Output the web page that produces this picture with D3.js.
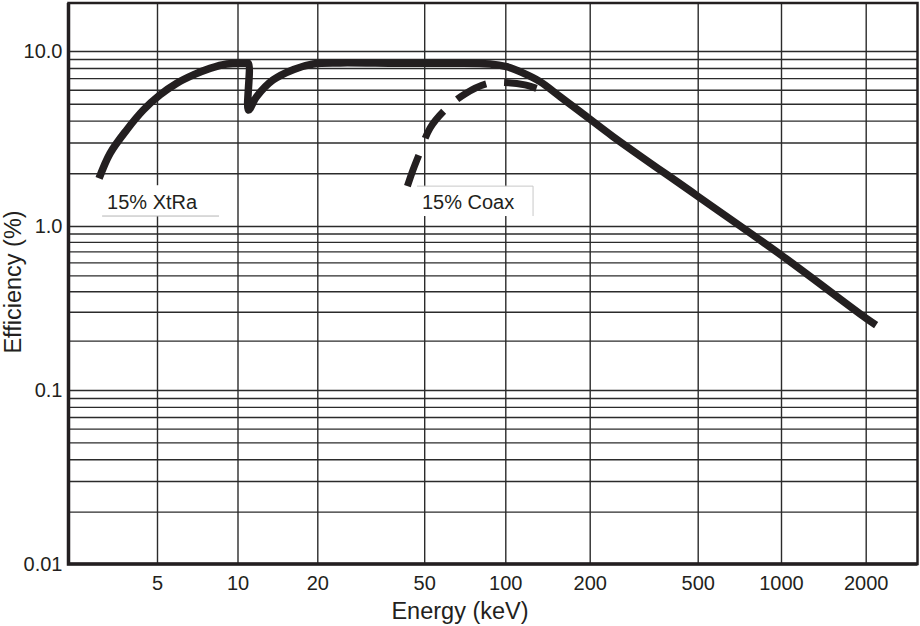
<!DOCTYPE html>
<html>
<head>
<meta charset="utf-8">
<script src="https://cdn.jsdelivr.net/npm/d3@7"></script>
<style>
    body { margin: 0; background: #fff; }
    svg text { font-family: "Liberation Sans", Arial, Helvetica, sans-serif; fill: #231f20; }
</style>
</head>
<body>
<div id="main"></div>
<script>

// tick labels and grid values
const xTickValues = [5, 10, 20, 50, 100, 200, 500, 1000, 2000];
const yTickValues = [0.01, 0.1, 1, 10];
const yTickLabels = ["0.01", "0.1", "1.0", "10.0"];
const yGridValues = [0.02, 0.03, 0.04, 0.05, 0.06, 0.07, 0.08, 0.09,
                     0.1, 0.2, 0.3, 0.4, 0.5, 0.6, 0.7, 0.8, 0.9,
                     1, 2, 3, 4, 5, 6, 7, 8, 9, 10];

// 15% XtRa detector (keV, %)
const xtraEnergy = [3.05, 3.35, 3.86, 4.45, 5.13, 5.93, 6.84, 7.89, 9.12, 10.7, 10.99, 11.0,
                    11.8, 13.6, 16.3, 19.3, 24.3, 40, 60, 87.7, 101, 116, 133, 157, 185, 244,
                    500, 1000, 2000, 2180];
const xtraEff = [1.87, 2.60, 3.54, 4.60, 5.61, 6.54, 7.30, 7.96, 8.43, 8.5, 8.5, 4.6,
                 5.48, 6.82, 7.85, 8.43, 8.55, 8.5, 8.5, 8.43, 8.13, 7.47, 6.68, 5.48, 4.50, 3.24,
                 1.48, 0.666, 0.275, 0.249];

// 15% Coax detector (keV, %)
const coaxEnergy = [43.3, 45.0, 47.6, 52.6, 59.7, 70.8, 86.5, 102.5, 117.5, 132];
const coaxEff = [1.69, 2.01, 2.51, 3.63, 4.60, 5.68, 6.53, 6.59, 6.40, 6.04];

// curve labels, boxes given in data units
const labelText = ["15% XtRa", "15% Coax"];
const labelEnergy = [[3.13, 8.53], [47.0, 125.6]];
const labelEff = [[1.71, 1.14], [1.69, 1.14]];


class EfficiencyVis{

    constructor(){

        this.width = 920;
        this.height = 626;

        this.svg = d3.select("#main").append("svg")
            .attr("width", this.width)
            .attr("height", this.height);

        this.update();
    }

    update(){

        let svg = this.svg;
        const ink = "#231f20";

        //hand drawn log grid, so the decades are not all the same size
        const x = d3.scaleLog()
            .domain([2.35, 5, 10, 20, 50, 100, 200, 500, 1000, 2000, 3070])
            .range([68.5, 157, 237.5, 317.3, 424.2, 505.3, 589.7, 697.7, 781, 865.7, 917.5]);

        const y = d3.scaleLog()
            .domain([0.01, 0.1, 1, 10, 18.8])
            .range([564, 390, 226, 51, 3]);

        const left = x.range()[0], right = x.range()[x.range().length - 1];
        const top = y.range()[y.range().length - 1], bottom = y.range()[0];

        //horizontal grid
        svg.append("g")
            .attr("transform", "translate(" + left + ",0)")
            .call(d3.axisLeft(y).tickValues(yGridValues).tickSize(-(right - left)).tickFormat(""))
            .call(g => g.select(".domain").remove())
            .selectAll("line")
            .attr("stroke", "#2b2b2b")
            .attr("stroke-width", 1.4);

        //vertical grid
        svg.append("g")
            .attr("transform", "translate(0," + bottom + ")")
            .call(d3.axisBottom(x).tickValues(xTickValues).tickSize(-(bottom - top)).tickFormat(""))
            .call(g => g.select(".domain").remove())
            .selectAll("line")
            .attr("stroke", "#2b2b2b")
            .attr("stroke-width", 1.4);

        //frame
        svg.append("rect")
            .attr("x", left).attr("y", top)
            .attr("width", right - left).attr("height", bottom - top)
            .attr("fill", "none")
            .attr("stroke", ink)
            .attr("stroke-width", 2.5);
        svg.append("path")
            .attr("d", "M" + left + "," + top + "V" + bottom + "H" + right)
            .attr("fill", "none")
            .attr("stroke", ink)
            .attr("stroke-width", 3.5);

        //x tick labels
        svg.append("g")
            .attr("transform", "translate(0," + bottom + ")")
            .call(d3.axisBottom(x).tickValues(xTickValues).tickSize(0).tickPadding(12)
                .tickFormat(d3.format("d")))
            .call(g => g.select(".domain").remove())
            .selectAll("text")
            .attr("font-size", "20px")
            .attr("font-family", null)
            .attr("fill", ink);

        //y tick labels
        svg.append("g")
            .attr("transform", "translate(" + left + ",0)")
            .call(d3.axisLeft(y).tickValues(yTickValues).tickSize(0).tickPadding(6)
                .tickFormat((d, i) => yTickLabels[i]))
            .call(g => g.select(".domain").remove())
            .selectAll("text")
            .attr("font-size", "20px")
            .attr("font-family", null)
            .attr("fill", ink);

        // X Axis Label
        svg.append("text")
            .text("Energy (keV)")
            .attr("text-anchor", "middle")
            .attr("font-size", "23.5px")
            .attr("x", 460)
            .attr("y", 619);

        // Y axis Label
        svg.append("text")
            .text("Efficiency (%)")
            .attr("text-anchor", "middle")
            .attr("font-size", "23.5px")
            .attr("transform", "translate(21,282)rotate(-90)");

        //label boxes
        let labels = labelText.map((t, i) => ({
            text: t, e0: labelEnergy[i][0], e1: labelEnergy[i][1],
            v0: labelEff[i][0], v1: labelEff[i][1]
        }));

        svg.selectAll(".label-box")
            .data(labels)
            .enter().append("rect")
            .attr("class", "label-box")
            .attr("x", d => x(d.e0))
            .attr("y", d => y(d.v0))
            .attr("width", d => x(d.e1) - x(d.e0))
            .attr("height", d => y(d.v1) - y(d.v0))
            .attr("fill", "#fff");

        //faint box edges that show in the original
        svg.append("line")
            .attr("x1", x(labels[0].e0)).attr("x2", x(labels[0].e1))
            .attr("y1", y(labels[0].v1)).attr("y2", y(labels[0].v1))
            .attr("stroke", "#b5b5b5").attr("stroke-width", 1);
        svg.append("path")
            .attr("d", "M" + x(labels[1].e0) + "," + y(labels[1].v0) + "H" + x(labels[1].e1) + "V" + y(labels[1].v1))
            .attr("fill", "none")
            .attr("stroke", "#c8c8c8").attr("stroke-width", 1);

        svg.selectAll(".label-text")
            .data(labels)
            .enter().append("text")
            .attr("class", "label-text")
            .attr("x", d => x(d.e0) + 5)
            .attr("y", d => y(d.v1) - 7)
            .attr("font-size", "20px")
            .text(d => d.text);

        //curves
        const line = d3.line()
            .x(d => x(d[0]))
            .y(d => y(d[1]))
            .curve(d3.curveCatmullRom.alpha(0.5));

        svg.append("path")
            .datum(d3.zip(coaxEnergy, coaxEff))
            .attr("d", line)
            .attr("fill", "none")
            .attr("stroke", ink)
            .attr("stroke-width", 7)
            .attr("stroke-dasharray", "33 18");

        svg.append("path")
            .datum(d3.zip(xtraEnergy, xtraEff))
            .attr("d", line)
            .attr("fill", "none")
            .attr("stroke", ink)
            .attr("stroke-width", 7.5)
            .attr("stroke-linejoin", "miter");
    }
}

new EfficiencyVis();

</script>
</body>
</html>
